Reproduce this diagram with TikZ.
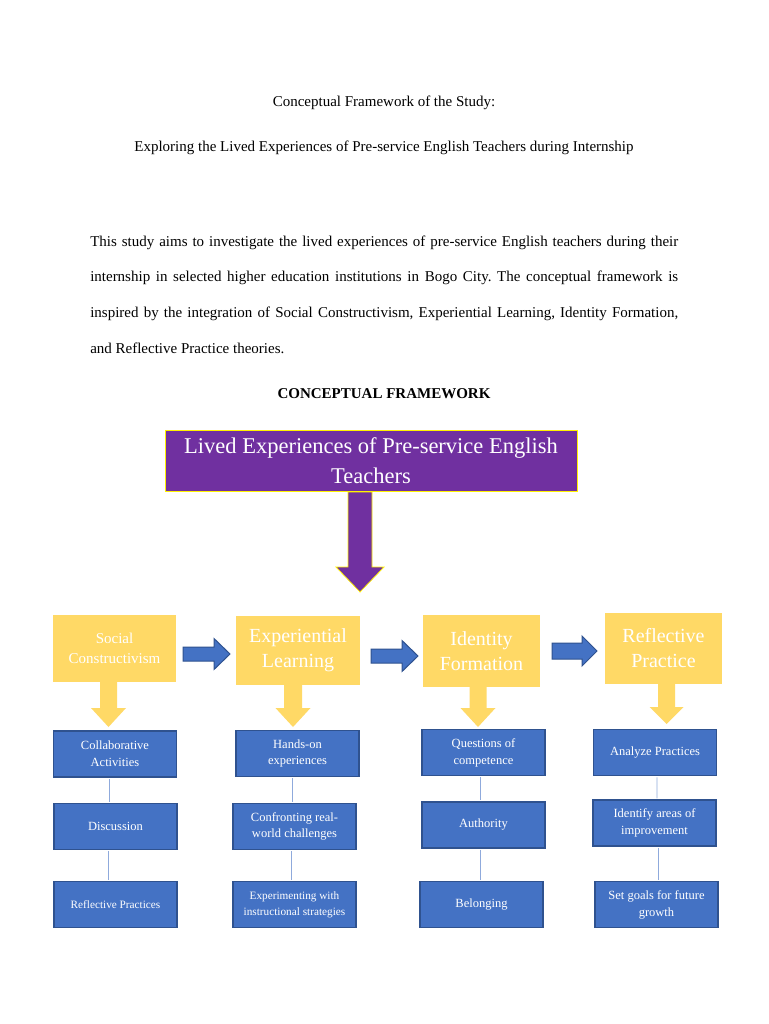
\documentclass[tikz,border=0pt]{standalone}
\usepackage{fontspec}
\setmainfont{Liberation Serif}
\usepackage{tikz}
\usetikzlibrary{positioning, calc}
\definecolor{framepurple}{HTML}{7030A0}
\definecolor{frameyellow}{HTML}{FFD966}
\definecolor{frameblue}{HTML}{4472C4}
\definecolor{frameblueline}{HTML}{2F528F}
\definecolor{framelink}{HTML}{8FAADC}
\newdimen\pxu \pxu=0.8pt
\frenchspacing
\newcommand{\blockdown}[7]{\draw[#1] (#2-#6,#3) -- (#2+#6,#3) -- (#2+#6,#4) -- (#2+#7,#4) -- (#2,#5) -- (#2-#7,#4) -- (#2-#6,#4) -- cycle;}
\newcommand{\blockright}[7]{\draw[#1] (#2,#5-#6) -- (#3,#5-#6) -- (#3,#5-#7) -- (#4,#5) -- (#3,#5+#7) -- (#3,#5+#6) -- (#2,#5+#6) -- cycle;}

\begin{document}
\begin{tikzpicture}[x=0.8pt, y=-0.8pt,
	pagetext/.style={anchor=base, inner sep=0, font=\fontsize{12}{14}\selectfont},
	lived/.style={draw=yellow, line width=0.8pt, fill=framepurple, text=white, align=center, minimum width=412\pxu, minimum height=61\pxu, inner sep=0, font=\fontsize{18}{24}\selectfont},
	theory/.style={fill=frameyellow, text=white, align=center, inner sep=0, font=\fontsize{16}{20}\selectfont},
	itembox/.style={draw=frameblueline, line width=1.2pt, fill=frameblue, text=white, align=center, minimum width=123\pxu, minimum height=46\pxu, inner sep=0, font=\fontsize{10}{13.5}\selectfont},
	linkline/.style={draw=framelink, line width=0.7pt},
	purplearrow/.style={draw=yellow, line width=0.6pt, fill=framepurple},
	yellowarrow/.style={draw=none, fill=frameyellow},
	bluearrow/.style={draw=frameblueline, line width=0.8pt, fill=frameblue}]
	\fill[white] (0,0) rectangle (768,1024);
	\node[pagetext] (title) at (384,107) {Conceptual Framework of the Study:};
	\node[pagetext] (subtitle) at (384,152) {Exploring the Lived Experiences of Pre-service English Teachers during Internship};
	\node[pagetext, anchor=base west] (par1) at (90,246) {\makebox[470.4pt][s]{This study aims to investigate the lived experiences of pre-service English teachers during their}};
	\node[pagetext, anchor=base west] (par2) at (90,281) {\makebox[470.4pt][s]{internship in selected higher education institutions in Bogo City. The conceptual framework is}};
	\node[pagetext, anchor=base west] (par3) at (90,317) {\makebox[470.4pt][s]{inspired by the integration of Social Constructivism, Experiential Learning, Identity Formation,}};
	\node[pagetext, anchor=base west] (par4) at (90,353) {and Reflective Practice theories.};
	\node[pagetext, font=\fontsize{12}{14}\selectfont\bfseries] (heading) at (384,398) {CONCEPTUAL FRAMEWORK};

	\node[lived] (lived) at (371,460.5) {Lived Experiences of Pre-service English\\Teachers};
	\blockdown{purplearrow}{360}{492}{567}{592}{12}{24}

	\node[theory, minimum width=123\pxu, minimum height=67\pxu, font=\fontsize{12}{16}\selectfont] (social) at (114.5,648.5) {Social\\Constructivism};
	\node[theory, minimum width=124\pxu, minimum height=69\pxu] (experiential) at (298,650.5) {Experiential\\Learning};
	\node[theory, minimum width=117\pxu, minimum height=72\pxu] (identity) at (481.5,651) {Identity\\Formation};
	\node[theory, minimum width=117\pxu, minimum height=71\pxu] (reflective) at (663.5,648.5) {Reflective\\Practice};

	\blockright{bluearrow}{183}{214}{230}{654}{7}{15.5}
	\blockright{bluearrow}{371}{402}{418}{656}{7}{15.5}
	\blockright{bluearrow}{552}{582}{597}{651}{8}{15}

	\blockdown{yellowarrow}{108.5}{681}{708}{727}{8.5}{17.5}
	\blockdown{yellowarrow}{293}{684}{708}{727}{9}{17.5}
	\blockdown{yellowarrow}{478}{686}{708}{727}{8.5}{17.5}
	\blockdown{yellowarrow}{666.5}{683}{707}{724}{8.5}{17}

	\node[itembox] (c1a) at (115,754) {Collaborative\\Activities};
	\node[itembox] (c1b) at (115.5,826.5) {Discussion};
	\node[itembox, font=\fontsize{9}{12}\selectfont] (c1c) at (115.5,904.5) {Reflective Practices};
	\node[itembox] (c2a) at (297.5,753.5) {Hands-on\\experiences};
	\node[itembox] (c2b) at (294.5,826.5) {Confronting real-\\world challenges};
	\node[itembox, font=\fontsize{9}{12.5}\selectfont] (c2c) at (294.5,904.5) {Experimenting with\\instructional strategies};
	\node[itembox] (c3a) at (483.5,752.5) {Questions of\\competence};
	\node[itembox] (c3b) at (483.5,825) {Authority};
	\node[itembox] (c3c) at (481.5,904.5) {Belonging};
	\node[itembox] (c4a) at (655,752.5) {Analyze Practices};
	\node[itembox] (c4b) at (654.5,823) {Identify areas of\\improvement};
	\node[itembox] (c4c) at (656.5,904.5) {Set goals for future\\growth};

	\draw[linkline] ($(c1a.south)+(-6,1)$) -- ($(c1b.north)+(-6.5,-1)$);
	\draw[linkline] ($(c1b.south)+(-7.5,1)$) -- ($(c1c.north)+(-7.5,-1)$);
	\draw[linkline] ($(c2a.south)+(-5.5,1)$) -- ($(c2b.north)+(-2.5,-1)$);
	\draw[linkline] ($(c2b.south)+(-3.5,1)$) -- ($(c2c.north)+(-3.5,-1)$);
	\draw[linkline] ($(c3a.south)+(-3.5,1)$) -- ($(c3b.north)+(-3.5,-1)$);
	\draw[linkline] ($(c3b.south)+(-3.5,1)$) -- ($(c3c.north)+(-1.5,-1)$);
	\draw[linkline] ($(c4a.south)+(2,1)$) -- ($(c4b.north)+(2.5,-1)$);
	\draw[linkline] ($(c4b.south)+(3.5,1)$) -- ($(c4c.north)+(1.5,-1)$);
\end{tikzpicture}
\end{document}
